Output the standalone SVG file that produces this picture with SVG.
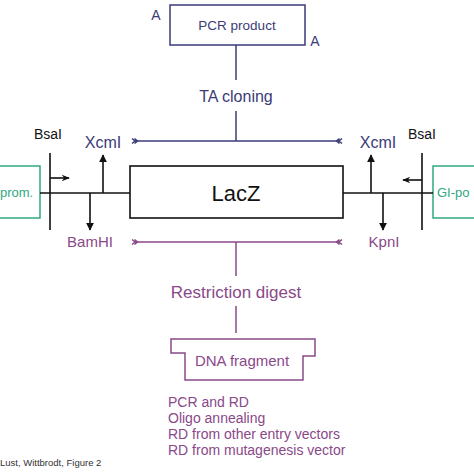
<svg xmlns="http://www.w3.org/2000/svg" width="474" height="474" viewBox="0 0 474 474">
<style>
text{font-family:"Liberation Sans",Arial,sans-serif}
.b{fill:#3b3b78}
.p{fill:#8a4889}
.k{fill:#111}
.g{fill:#2fa882}
.lb{stroke:#3b3b78;stroke-width:1.5;fill:none}
.lp{stroke:#8a4889;stroke-width:1.5;fill:none}
.lk{stroke:#111;stroke-width:1.6;fill:none}
</style>
<defs>
<marker id="ah" viewBox="0 0 10 10" refX="9" refY="5" markerWidth="5" markerHeight="5" orient="auto"><path d="M0,0L10,5L0,10z" fill="#111"/></marker>
<marker id="ah2" viewBox="0 0 10 10" refX="9" refY="5" markerWidth="6" markerHeight="5" orient="auto"><path d="M0,1L10,5L0,9L3,5z" fill="#111"/></marker>
</defs>
<rect width="474" height="474" fill="#fff"/>
<g id="pcr">
<rect x="170" y="5" width="135" height="40" class="lb"/>
<text x="237" y="30" text-anchor="middle" font-size="13.5" class="b">PCR product</text>
<text x="156" y="20" text-anchor="middle" font-size="14" class="b">A</text>
<text x="315" y="46" text-anchor="middle" font-size="14" class="b">A</text>
</g>
<g id="ta">
<text x="236" y="102" text-anchor="middle" font-size="16" class="b">TA cloning</text>
</g>
<g id="lacz">
<rect x="130" y="166" width="213" height="52" class="lk" fill="#fff"/>
<text x="236" y="201" text-anchor="middle" font-size="22" class="k">LacZ</text>
</g>
<g id="lprom">
<rect x="-5" y="166" width="45" height="52" stroke="#2fa882" stroke-width="1.5" fill="none"/>
<text x="0" y="197" font-size="13" class="g">prom.</text>
</g>
<g id="rprom">
<rect x="433" y="166" width="50" height="52" stroke="#2fa882" stroke-width="1.5" fill="none"/>
<text x="437" y="197" font-size="13" class="g">GI-po</text>
</g>
<g id="labels">
<text x="48" y="139" text-anchor="middle" font-size="14" class="k">BsaI</text>
<text x="422" y="139" text-anchor="middle" font-size="14" class="k">BsaI</text>
<text x="103" y="148" text-anchor="middle" font-size="16" class="b">XcmI</text>
<text x="378" y="148" text-anchor="middle" font-size="16" class="b">XcmI</text>
<text x="90" y="247" text-anchor="middle" font-size="15" class="p">BamHI</text>
<text x="384" y="247" text-anchor="middle" font-size="15" class="p">KpnI</text>
</g>
<g id="rd">
<text x="236" y="298" text-anchor="middle" font-size="17" class="p">Restriction digest</text>
</g>
<g id="dna">
<path d="M171,339H315V356H303V380H185V353H171Z" class="lp"/>
<text x="242" y="366" text-anchor="middle" font-size="15" class="p">DNA fragment</text>
</g>
<g id="list" font-size="14" class="p">
<text x="168" y="407" class="p">PCR and RD</text>
<text x="168" y="423" class="p">Oligo annealing</text>
<text x="168" y="439" class="p">RD from other entry vectors</text>
<text x="168" y="455" class="p">RD from mutagenesis vector</text>
</g>
<text x="0" y="466" font-size="9.5" fill="#333">Lust, Wittbrodt, Figure 2</text>
<g id="connectors">
<line x1="236" y1="45" x2="236" y2="80" class="lb"/>
<line x1="236" y1="111" x2="236" y2="141" class="lb"/>
<line x1="134" y1="141" x2="340" y2="141" class="lb"/>
<path d="M132,138.5L135,141L132,143.5M134.5,138.5L137.5,141L134.5,143.5" class="lb" stroke-width="1.3"/>
<path d="M342,138.5L339,141L342,143.5M339.5,138.5L336.5,141L339.5,143.5" class="lb" stroke-width="1.3"/>
<line x1="134" y1="242" x2="340" y2="242" class="lp"/>
<path d="M132,239.5L135,242L132,244.5M134.5,239.5L137.5,242L134.5,244.5" class="lp" stroke-width="1.3"/>
<path d="M342,239.5L339,242L342,244.5M339.5,239.5L336.5,242L339.5,244.5" class="lp" stroke-width="1.3"/>
<line x1="236" y1="242" x2="236" y2="276" class="lp"/>
<line x1="236" y1="306" x2="236" y2="333" class="lp"/>
<line x1="40" y1="193" x2="130" y2="193" class="lk"/>
<line x1="343" y1="193" x2="433" y2="193" class="lk"/>
<line x1="50" y1="153" x2="50" y2="230" class="lk" stroke-width="2"/>
<line x1="422" y1="153" x2="422" y2="230" class="lk" stroke-width="2"/>
<line x1="50" y1="178" x2="69" y2="178" class="lk" stroke-width="1" marker-end="url(#ah2)"/>
<line x1="422" y1="180" x2="403" y2="180" class="lk" stroke-width="1" marker-end="url(#ah2)"/>
<line x1="103" y1="193" x2="103" y2="155" class="lk" marker-end="url(#ah)"/>
<line x1="90" y1="193" x2="90" y2="230" class="lk" marker-end="url(#ah)"/>
<line x1="371" y1="193" x2="371" y2="155" class="lk" marker-end="url(#ah)"/>
<line x1="383" y1="193" x2="383" y2="230" class="lk" marker-end="url(#ah)"/>
</g>
</svg>
